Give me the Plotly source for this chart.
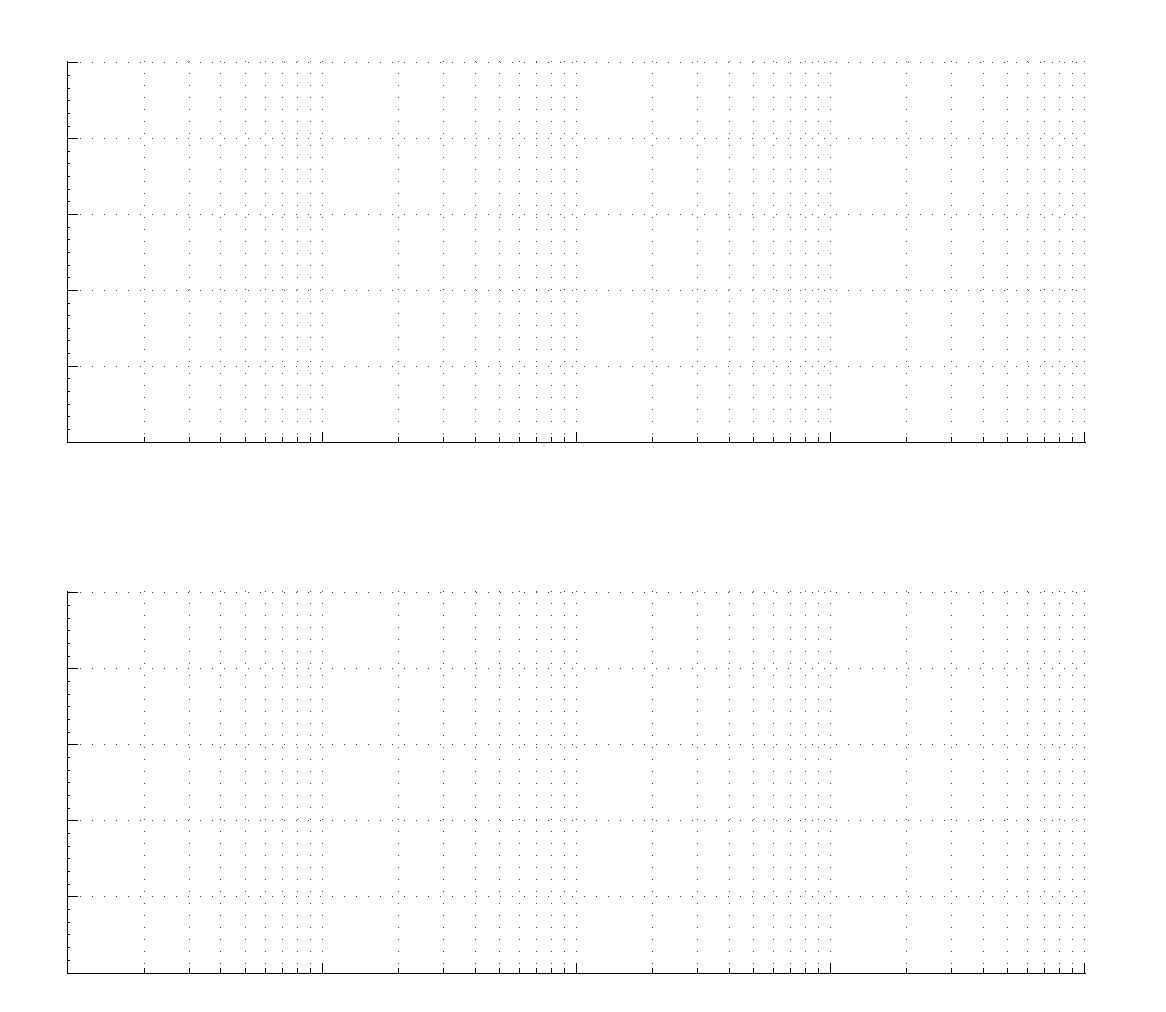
import plotly.graph_objects as go
from plotly.subplots import make_subplots

# Data (the reference shows empty Bode-style axes: no curves drawn)
frequency = []
magnitude = []
phase = []

x_range_log = [0, 4]          # decades 10^0 .. 10^4
y_major_ticks = [0, 1, 2, 3, 4, 5]

fig = make_subplots(rows=2, cols=1, vertical_spacing=0.1)
fig.add_trace(go.Scatter(x=frequency, y=magnitude, mode="lines",
                         line=dict(color="#0000ff", width=1), showlegend=False), row=1, col=1)
fig.add_trace(go.Scatter(x=frequency, y=phase, mode="lines",
                         line=dict(color="#0000ff", width=1), showlegend=False), row=2, col=1)

grid_col = "#4d4d4d"
dash = "1px,11px"
x_eps = 0.007   # small headroom so edge gridlines are drawn
y_eps = 0.025

xaxis_style = dict(
    type="log", range=[x_range_log[0], x_range_log[1] + x_eps], dtick=1, showticklabels=False,
    ticks="inside", ticklen=10, tickcolor="black", tickwidth=1,
    showline=True, linecolor="black", linewidth=1, mirror=False,
    showgrid=True, gridcolor=grid_col, griddash=dash, gridwidth=1,
    zeroline=False,
    minor=dict(ticks="inside", ticklen=5, tickcolor="black",
               showgrid=True, gridcolor=grid_col, griddash=dash, gridwidth=1),
)
yaxis_style = dict(
    range=[y_major_ticks[0], y_major_ticks[-1] + y_eps], tickvals=y_major_ticks,
    showticklabels=False,
    ticks="inside", ticklen=10, tickcolor="black", tickwidth=1,
    showline=True, linecolor="black", linewidth=1, mirror=False,
    showgrid=True, gridcolor=grid_col, griddash=dash, gridwidth=1,
    zeroline=False,
    minor=dict(ticks="inside", ticklen=2, tickcolor="black", dtick=1/6, showgrid=False),
)

fig.update_xaxes(**xaxis_style)
fig.update_yaxes(**yaxis_style)

fig.update_layout(
    width=1166, height=1012,
    margin=dict(l=60, r=88, t=53, b=47),
    plot_bgcolor="white", paper_bgcolor="white",
    showlegend=False,
)
fig.layout.yaxis.domain = [1 - 381 / 912, 1.0]
fig.layout.yaxis2.domain = [0.0, 382 / 912]

fig.write_html("out.html")
